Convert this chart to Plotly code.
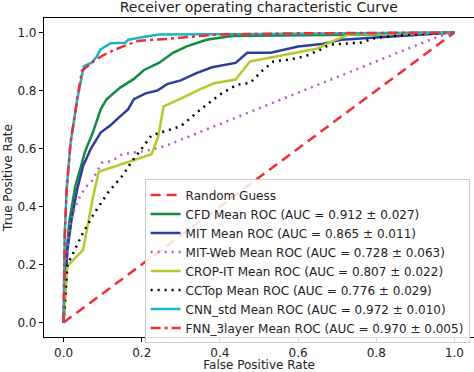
import plotly.graph_objects as go

# ---------------- data ----------------
rand_x = [0, 1]
rand_y = [0, 1]

cfd_x = [0, 0.005, 0.015, 0.03, 0.047, 0.055, 0.075, 0.095, 0.11, 0.145, 0.18, 0.205, 0.245, 0.28, 0.315, 0.366, 0.43, 0.6, 0.8, 0.9, 1.0]
cfd_y = [0, 0.2, 0.35, 0.47, 0.55, 0.59, 0.655, 0.735, 0.77, 0.81, 0.84, 0.87, 0.896, 0.93, 0.952, 0.975, 0.988, 0.99, 0.993, 0.998, 1.0]

mit_x = [0, 0.005, 0.01, 0.02, 0.035, 0.05, 0.07, 0.095, 0.12, 0.14, 0.165, 0.18, 0.21, 0.24, 0.265, 0.3, 0.34, 0.38, 0.44, 0.47, 0.53, 0.6, 0.66, 0.71, 0.8, 0.9, 1.0]
mit_y = [0, 0.15, 0.25, 0.35, 0.46, 0.54, 0.6, 0.655, 0.68, 0.705, 0.735, 0.77, 0.79, 0.8, 0.822, 0.835, 0.86, 0.88, 0.895, 0.93, 0.93, 0.952, 0.96, 0.975, 0.982, 0.992, 1.0]

web_x = [0, 0.005, 0.015, 0.03, 0.04, 0.055, 0.072, 0.098, 0.123, 0.149, 0.174, 0.208, 0.259, 0.45, 0.96, 1.0]
web_y = [0, 0.2, 0.33, 0.40, 0.43, 0.464, 0.487, 0.551, 0.556, 0.579, 0.585, 0.591, 0.608, 0.711, 0.987, 1.0]

crop_x = [0, 0.005, 0.01, 0.05, 0.065, 0.075, 0.09, 0.225, 0.242, 0.256, 0.30, 0.35, 0.385, 0.44, 0.477, 0.55, 0.65, 0.68, 0.73, 0.8, 1.0]
crop_y = [0, 0.12, 0.195, 0.25, 0.36, 0.43, 0.52, 0.58, 0.64, 0.745, 0.772, 0.805, 0.825, 0.838, 0.9, 0.918, 0.945, 0.965, 0.993, 0.995, 1.0]

cctop_x = [0, 0.005, 0.01, 0.025, 0.05, 0.08, 0.115, 0.15, 0.175, 0.2, 0.225, 0.3, 0.35, 0.4, 0.443, 0.477, 0.51, 0.537, 0.58, 0.62, 0.656, 0.68, 0.76, 0.8, 0.885, 1.0]
cctop_y = [0, 0.1, 0.2, 0.24, 0.31, 0.38, 0.45, 0.505, 0.556, 0.6, 0.645, 0.677, 0.734, 0.786, 0.82, 0.826, 0.87, 0.9, 0.907, 0.919, 0.94, 0.958, 0.965, 0.982, 0.993, 1.0]

cnn_x = [0, 0.003, 0.008, 0.018, 0.035, 0.045, 0.052, 0.072, 0.086, 0.094, 0.12, 0.157, 0.166, 0.208, 0.245, 0.5, 1.0]
cnn_y = [0, 0.3, 0.46, 0.62, 0.77, 0.84, 0.884, 0.896, 0.919, 0.941, 0.963, 0.965, 0.975, 0.985, 0.993, 0.995, 1.0]

fnn_x = [0, 0.003, 0.008, 0.018, 0.035, 0.047, 0.072, 0.098, 0.123, 0.157, 0.191, 0.242, 0.265, 0.39, 0.6, 1.0]
fnn_y = [0, 0.3, 0.46, 0.62, 0.77, 0.868, 0.896, 0.919, 0.936, 0.955, 0.971, 0.976, 0.978, 0.993, 0.997, 1.0]

names = [
    "Random Guess",
    "CFD Mean ROC (AUC = 0.912 ± 0.027)",
    "MIT Mean ROC (AUC = 0.865 ± 0.011)",
    "MIT-Web Mean ROC (AUC = 0.728 ± 0.063)",
    "CROP-IT Mean ROC (AUC = 0.807 ± 0.022)",
    "CCTop Mean ROC (AUC = 0.776 ± 0.029)",
    "CNN_std Mean ROC (AUC = 0.972 ± 0.010)",
    "FNN_3layer Mean ROC (AUC = 0.970 ± 0.005)",
]
tick_vals = [0.0, 0.2, 0.4, 0.6, 0.8, 1.0]
tick_text = ["0.0", "0.2", "0.4", "0.6", "0.8", "1.0"]

# ---------------- styles ----------------
series = [
    (rand_x, rand_y, "#ee2e36", "10px,6px", 2.5),
    (cfd_x, cfd_y, "#138a3c", "solid", 2.5),
    (mit_x, mit_y, "#2b3f9b", "solid", 2.5),
    (web_x, web_y, "#b05cbd", "2px,5px", 2.5),
    (crop_x, crop_y, "#b9c72e", "solid", 2.5),
    (cctop_x, cctop_y, "#000000", "2px,5px", 2.5),
    (cnn_x, cnn_y, "#17b5c6", "solid", 2.5),
    (fnn_x, fnn_y, "#ee2e36", "10px,4px,3px,4px", 2.5),
]

fig = go.Figure()
for (xs, ys, col, dash, w), nm in zip(series, names):
    fig.add_trace(go.Scatter(x=xs, y=ys, mode="lines", name=nm,
                             line=dict(color=col, dash=dash, width=w)))

font = "DejaVu Sans"
axis_common = dict(
    showline=True, linecolor="black", linewidth=1.2, mirror=True, automargin=False,
    ticks="outside", ticklen=4, tickcolor="black", showgrid=False, zeroline=False,
    tickfont=dict(family=font, size=12, color="#222"),
    tickvals=tick_vals, ticktext=tick_text,
)
fig.update_layout(
    width=474, height=372,
    margin=dict(l=44, r=0, t=18, b=35),
    paper_bgcolor="white", plot_bgcolor="white",
    title=dict(text="Receiver operating characteristic Curve", x=0.546, xanchor="center",
               y=0.995, yanchor="top", font=dict(family=font, size=14, color="#222")),
    xaxis=dict(range=[-0.05, 1.05], title=dict(text="False Positive Rate", standoff=5,
               font=dict(family=font, size=12, color="#222")), **axis_common),
    yaxis=dict(range=[-0.05, 1.05], title=dict(text="True Positive Rate", standoff=2,
               font=dict(family=font, size=12, color="#222")), **axis_common),
    legend=dict(x=0.234, y=0.494, xanchor="left", yanchor="top",
                bgcolor="rgba(255,255,255,0.85)", bordercolor="#cccccc", borderwidth=1,
                font=dict(family=font, size=12, color="#222"), itemwidth=30,
                tracegroupgap=0),
    showlegend=True,
)
fig.write_html("out.html", config={"displayModeBar": False},
               post_script="document.body.style.margin='0';document.body.style.overflow='hidden';")
